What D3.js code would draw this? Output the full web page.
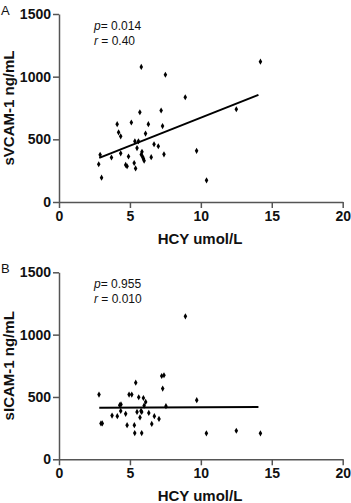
<!DOCTYPE html>
<html>
<head>
<meta charset="utf-8">
<script src="https://cdn.jsdelivr.net/npm/d3@7"></script>
<style>
  body { margin: 0; background: #fff; }
  svg { display: block; font-family: "Liberation Sans", Arial, sans-serif; }
</style>
</head>
<body>
<div id="chart"></div>
<script>
// Panel A: sVCAM-1 vs HCY
const hcyA = [2.8, 2.9, 3.0, 3.7, 4.1, 4.2, 4.35, 4.35, 4.7, 4.8, 4.9, 5.1, 5.3, 5.35, 5.4, 5.5, 5.6, 5.7, 5.8,
  5.85, 5.8, 5.9, 5.95, 6.0, 6.1, 6.3, 6.5, 6.7, 7.0, 7.2, 7.3, 7.4, 7.5, 8.9, 9.7, 10.4, 12.5, 14.2];
const vcam = [301, 376, 194, 355, 621, 556, 524, 388, 296, 285, 363, 634, 311, 484, 268, 430, 484, 716, 1078,
  400, 378, 360, 345, 330, 546, 621, 358, 461, 445, 730, 606, 380, 1015, 836, 408, 173, 740, 1120];
const fitA = [[2.84, 352], [14.06, 855]];

// Panel B: sICAM-1 vs HCY
const hcyB = [2.82, 2.96, 3.05, 3.74, 4.11, 4.28, 4.37, 4.35, 4.7, 4.8, 4.94, 5.13, 5.31, 5.34, 5.41, 5.5, 5.62,
  5.71, 5.78, 5.83, 5.83, 5.95, 6.0, 6.11, 6.33, 6.54, 6.72, 7.05, 7.24, 7.4, 7.31, 7.54, 8.91, 9.71, 10.39, 12.5, 14.2];
const icam = [519, 288, 288, 351, 346, 434, 440, 388, 365, 274, 519, 519, 274, 210, 615, 380, 498,
  336, 388, 380, 210, 492, 430, 460, 372, 284, 346, 324, 668, 674, 567, 426, 1147, 474, 208, 229, 208];
const fitB = [[2.84, 414], [14.06, 419]];

const xTicks = [0, 5, 10, 15, 20];
const yTicks = [0, 500, 1000, 1500];

const panels = [
  { letter: "A", xs: hcyA, ys: vcam, fit: fitA, ylab: "sVCAM-1 ng/mL", p: "0.014", r: "0.40", top: 14, bottom: 202 },
  { letter: "B", xs: hcyB, ys: icam, fit: fitB, ylab: "sICAM-1 ng/mL", p: "0.955", r: "0.010", top: 272.3, bottom: 459.3 }
];

const svg = d3.select("#chart").append("svg")
  .attr("width", 351)
  .attr("height", 503);

const x = d3.scaleLinear().domain([0, 20]).range([59, 342.7]);
const axisColor = "#555";

panels.forEach((pn) => {
  const y = d3.scaleLinear().domain([0, 1500]).range([pn.bottom, pn.top]);
  const g = svg.append("g");

  // axes
  const yAxis = g.append("g")
    .attr("transform", `translate(${x(0)},0)`)
    .call(d3.axisLeft(y).tickValues(yTicks).tickFormat(d3.format("d"))
      .tickSize(6).tickSizeOuter(0).tickPadding(2));
  const xAxis = g.append("g")
    .attr("transform", `translate(0,${pn.bottom})`)
    .call(d3.axisBottom(x).tickValues(xTicks).tickFormat(d3.format("d"))
      .tickSize(6).tickSizeOuter(0).tickPadding(3));

  [yAxis, xAxis].forEach((a) => {
    a.select(".domain").attr("stroke", axisColor).attr("stroke-width", 1.5);
    a.selectAll(".tick line").attr("stroke", axisColor).attr("stroke-width", 1.5);
    a.selectAll(".tick text")
      .attr("fill", "#111")
      .attr("font-size", 14)
      .attr("font-weight", "bold");
  });

  // axis titles
  g.append("text")
    .attr("transform", `translate(14,${(pn.top + pn.bottom) / 2}) rotate(-90)`)
    .attr("text-anchor", "middle")
    .attr("font-size", 15)
    .attr("font-weight", "bold")
    .attr("fill", "#111")
    .text(pn.ylab);

  g.append("text")
    .attr("x", 200)
    .attr("y", pn.bottom + 42)
    .attr("text-anchor", "middle")
    .attr("font-size", 15)
    .attr("font-weight", "bold")
    .attr("fill", "#111")
    .text("HCY umol/L");

  // panel letter
  g.append("text")
    .attr("x", 1)
    .attr("y", pn.top + 1)
    .attr("font-size", 13)
    .attr("fill", "#111")
    .text(pn.letter);

  // stats
  const st = g.append("g").attr("font-size", 12).attr("fill", "#111");
  const t1 = st.append("text").attr("x", 94).attr("y", pn.top + 15.5);
  t1.append("tspan").attr("font-style", "italic").text("p");
  t1.append("tspan").text("= " + pn.p);
  const t2 = st.append("text").attr("x", 94).attr("y", pn.top + 30.5);
  t2.append("tspan").attr("font-style", "italic").text("r");
  t2.append("tspan").text(" = " + pn.r);

  // regression line
  g.append("path")
    .datum(pn.fit)
    .attr("fill", "none")
    .attr("stroke", "#000")
    .attr("stroke-width", 2)
    .attr("d", d3.line().x((d) => x(d[0])).y((d) => y(d[1])));

  // points
  g.selectAll(".pt")
    .data(pn.xs.map((v, i) => [v, pn.ys[i]]))
    .join("path")
    .attr("class", "pt")
    .attr("transform", (d) => `translate(${x(d[0])},${y(d[1])})`)
    .attr("d", d3.symbol().type(d3.symbolDiamond).size(11))
    .attr("fill", "#000");
});
</script>
</body>
</html>
